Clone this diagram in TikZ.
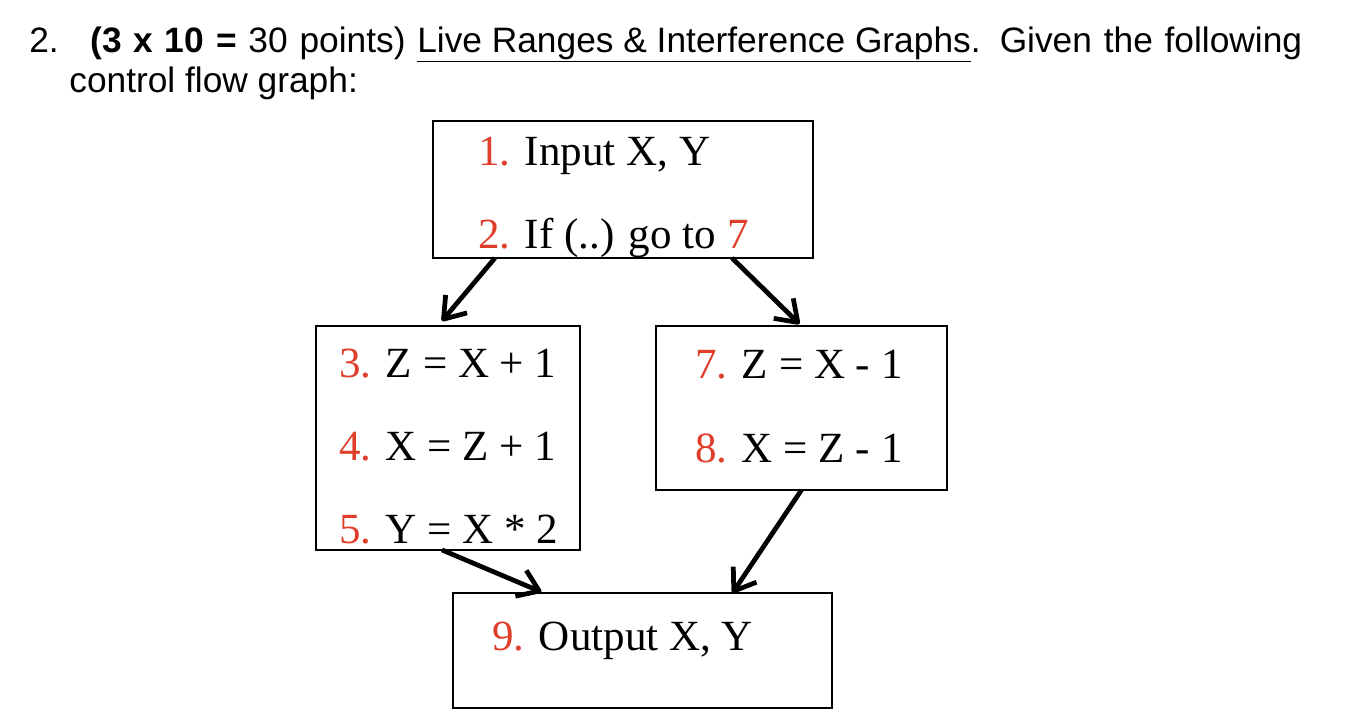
\documentclass[tikz,border=0pt]{standalone}
\usepackage{fontspec}
\setmainfont{Liberation Serif}
\newfontfamily\headfont{Liberation Sans}
\usetikzlibrary{arrows.meta,calc}
\definecolor{numred}{RGB}{222,62,42}

\begin{document}
\begin{tikzpicture}[>={Straight Barb[length=4mm,width=5.6mm,line join=round]},x=0.02cm,y=-0.02cm,
	box/.style={draw,line width=1.1pt,anchor=north west,inner sep=0pt,outer sep=0pt},
	stmt/.style={anchor=base west,inner sep=0pt,font=\fontsize{24.5}{29}\selectfont},
	head/.style={anchor=base west,inner sep=0pt,font=\headfont\fontsize{20.1}{24}\selectfont},
	flow/.style={->,line width=2.7pt}]
	\def\lbl#1{\textcolor{numred}{#1.}}
	\useasboundingbox (0,0) rectangle (1347,721);
	\node[head] (qnum) at (29,52) {2.};
	\node[head] (qtext) at (90,52) {\makebox[24.24cm][s]{\textbf{(3 x 10 =} 30 points) \underline{Live Ranges \& Interference Graphs}. Given the following}};
	\node[head] (qline) at (69,92) {control flow graph:};
	\node[box,minimum width=7.6cm,minimum height=2.74cm] (b1) at (433,121) {};
	\node[box,minimum width=5.28cm,minimum height=4.48cm] (b3) at (316,326) {};
	\node[box,minimum width=5.82cm,minimum height=3.28cm] (b7) at (656,326) {};
	\node[box,minimum width=7.58cm,minimum height=2.3cm] (b9) at (453,593) {};
	\node[stmt] (s1) at (478,165) {\lbl1 Input X, Y};
	\node[stmt] (s2) at (478,248) {\lbl2 If (..) go to \textcolor{numred}{7}};
	\node[stmt] (s3) at (339,377) {\lbl3 Z = X + 1};
	\node[stmt] (s4) at (339,460) {\lbl4 X = Z + 1};
	\node[stmt] (s5) at (339,543) {\lbl5 Y = X * 2};
	\node[stmt] (s7) at (695,378) {\lbl7 Z = X - 1};
	\node[stmt] (s8) at (695,462) {\lbl8 X = Z - 1};
	\node[stmt] (s9) at (492,650) {\lbl9 Output X, Y};
	\draw[flow] ($(b1.south)+(-128,0)$) -- ($(b3.north)+(-6,-5)$);
	\draw[flow] ($(b1.south)+(109,0)$) -- ($(b7.north)+(-2,-2)$);
	\draw[flow] ($(b3.south)+(-6,0)$) -- ($(b9.north)+(-101,-1)$);
	\draw[flow] (b7.south) -- ($(b9.north)+(90,0)$);
\end{tikzpicture}
\end{document}
